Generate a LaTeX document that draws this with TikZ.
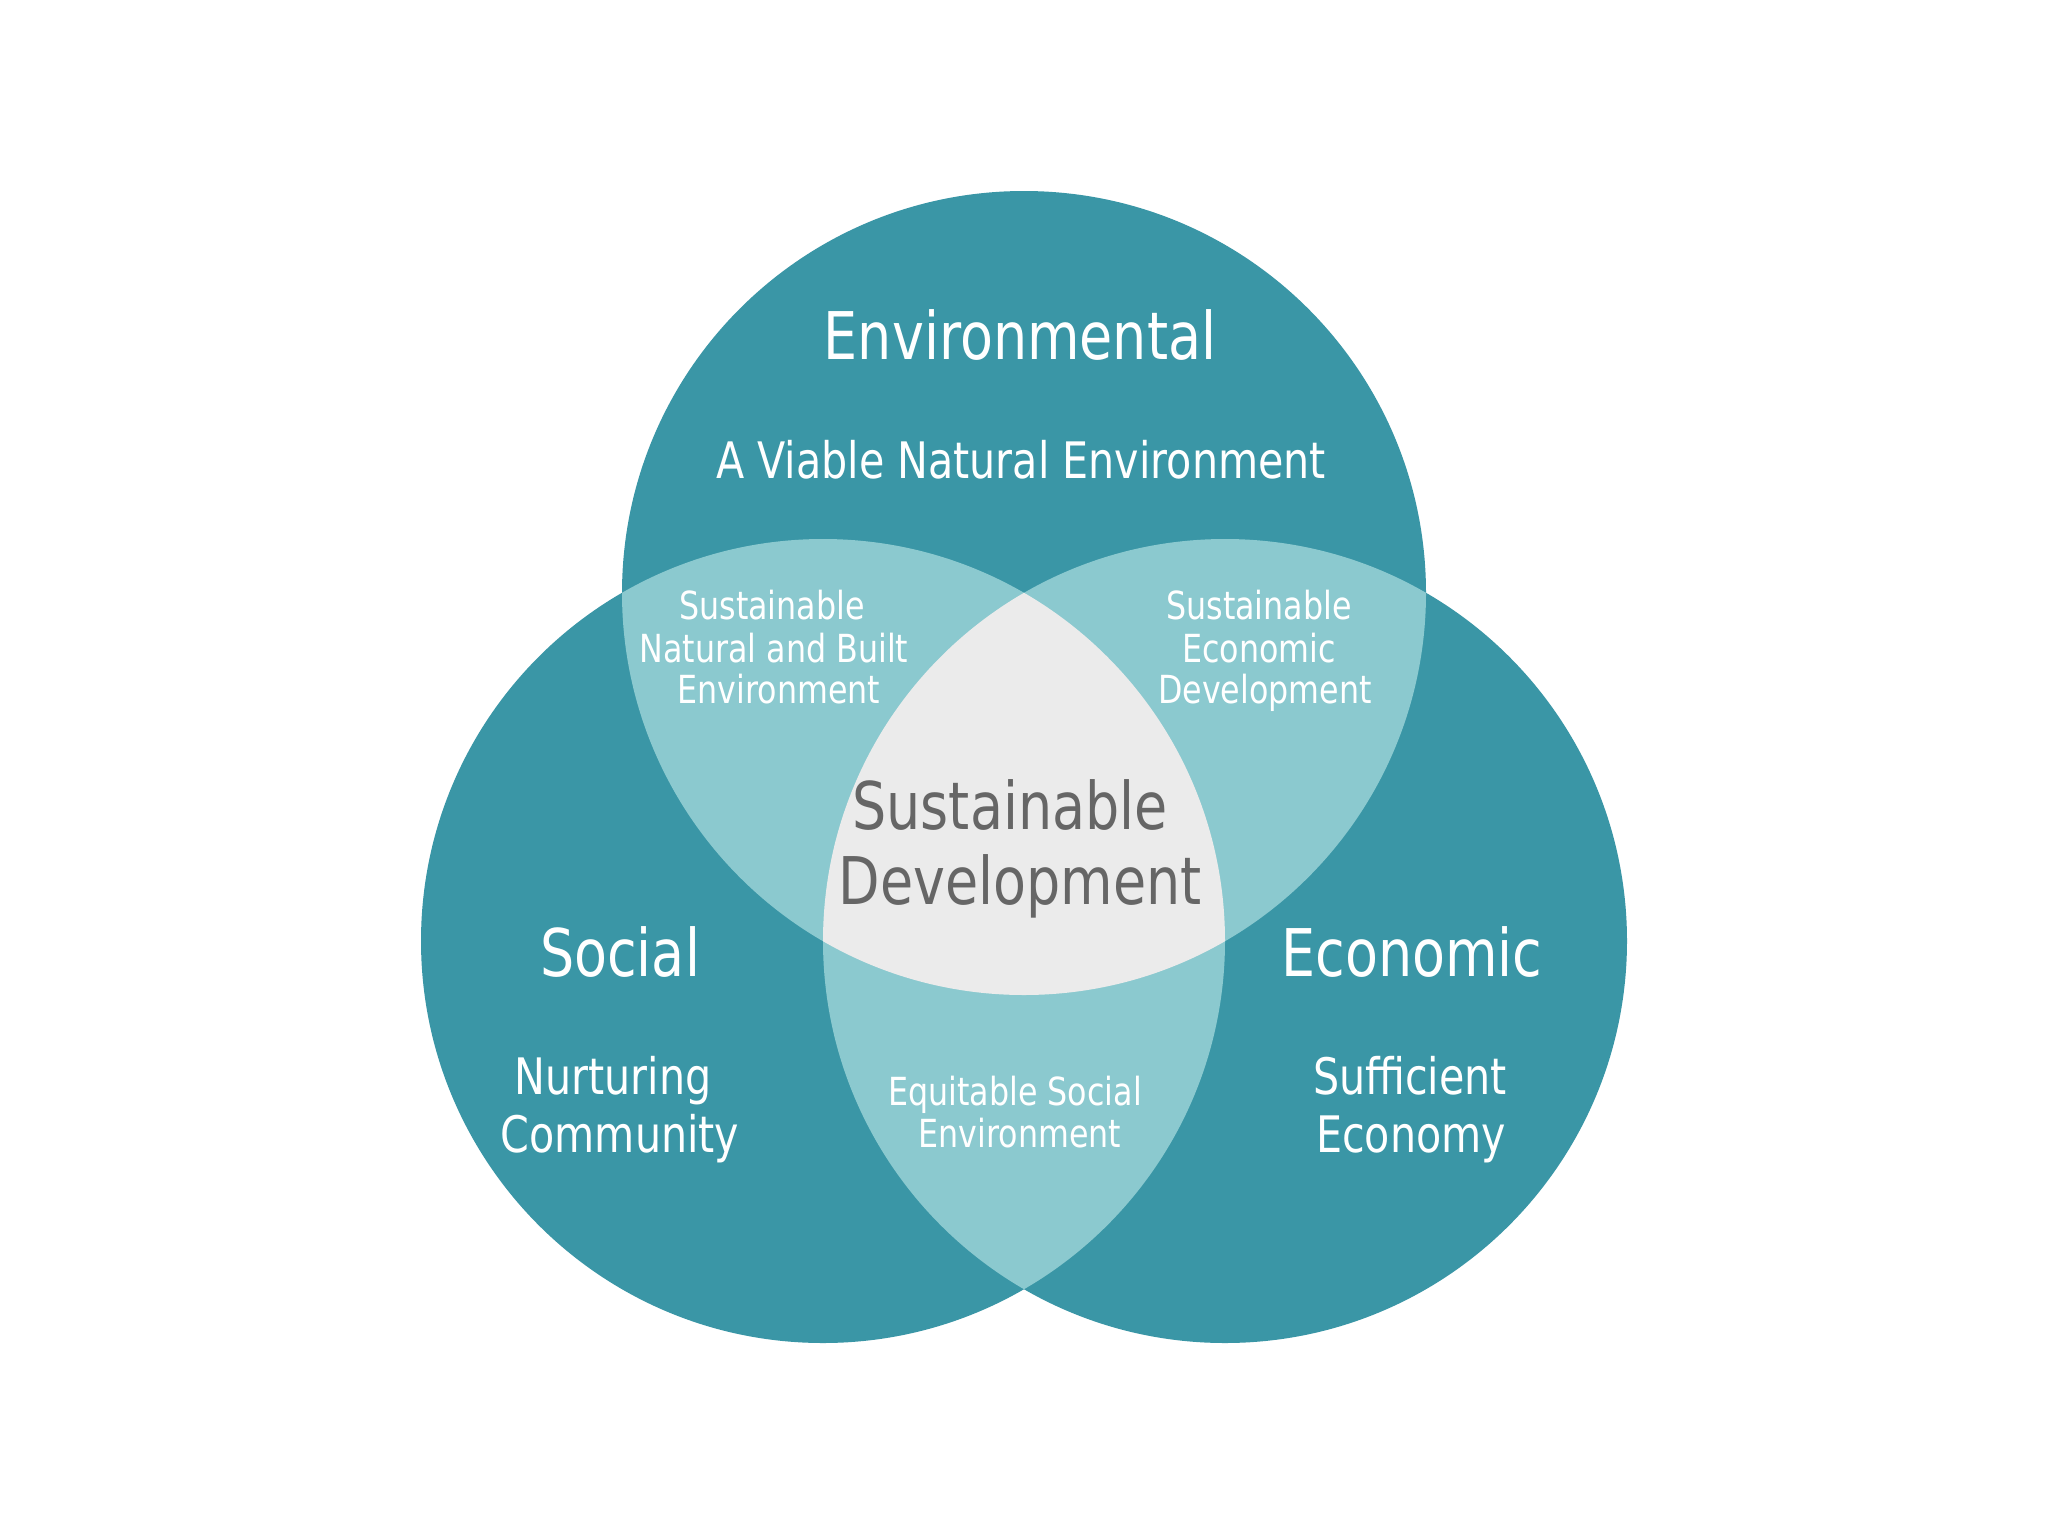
\documentclass[tikz,border=0pt]{standalone}
\usepackage{fontspec}
\newfontfamily\vf[FakeStretch=0.82]{DejaVu Sans}
\definecolor{tealc}{HTML}{3A96A6}
\definecolor{lensc}{HTML}{8BC9CF}
\definecolor{corec}{HTML}{EBEBEB}
\definecolor{coretext}{HTML}{666666}
\begin{document}
\begin{tikzpicture}[x=0.01cm,y=-0.01cm,
  hdr/.style={text=white, font=\vf\fontsize{18.7}{22}\selectfont, anchor=base, inner sep=0},
  subt/.style={text=white, font=\vf\fontsize{14.3}{17}\selectfont, anchor=base, inner sep=0},
  lenstxt/.style={text=white, font=\vf\fontsize{11}{13}\selectfont, anchor=base, inner sep=0},
  coretxt/.style={text=coretext, font=\vf\fontsize{18.7}{22}\selectfont, anchor=base, inner sep=0}]
\useasboundingbox[fill=white] (0,0) rectangle (2048,1536);
\def\R{402}
\coordinate (E) at (1024,593);
\coordinate (S) at (823,941);
\coordinate (C) at (1225,941);
\fill[tealc] (E) circle[radius=\R] (S) circle[radius=\R] (C) circle[radius=\R];
\begin{scope}
  \clip (E) circle[radius=\R];
  \fill[lensc] (S) circle[radius=\R] (C) circle[radius=\R];
\end{scope}
\begin{scope}
  \clip (S) circle[radius=\R];
  \fill[lensc] (C) circle[radius=\R];
\end{scope}
\begin{scope}
  \clip (E) circle[radius=\R];
  \clip (S) circle[radius=\R];
  \fill[corec] (C) circle[radius=\R];
\end{scope}
% circle texts
\node[hdr] (envT) at (1020,359) {Environmental};
\node[subt] (envS) at (1021,478) {A Viable Natural Environment};
\node[hdr] (socT) at (620,976) {Social};
\node[subt] (socS1) at (613,1094) {Nurturing};
\node[subt] (socS2) at (620,1152) {Community};
\node[hdr] (ecoT) at (1412,976) {Economic};
\node[subt] (ecoS1) at (1410,1094) {Sufficient};
\node[subt] (ecoS2) at (1411,1152) {Economy};
% lens texts
\node[lenstxt] (l1a) at (772,619) {Sustainable};
\node[lenstxt] (l1b) at (774,662) {Natural and Built};
\node[lenstxt] (l1c) at (779,703) {Environment};
\node[lenstxt] (l2a) at (1259,619) {Sustainable};
\node[lenstxt] (l2b) at (1259,662) {Economic};
\node[lenstxt] (l2c) at (1265,703) {Development};
\node[lenstxt] (l3a) at (1015,1105) {Equitable Social};
\node[lenstxt] (l3b) at (1020,1147) {Environment};
% core
\node[coretxt] (core1) at (1010,829) {Sustainable};
\node[coretxt] (core2) at (1020,904) {Development};
\end{tikzpicture}
\end{document}
